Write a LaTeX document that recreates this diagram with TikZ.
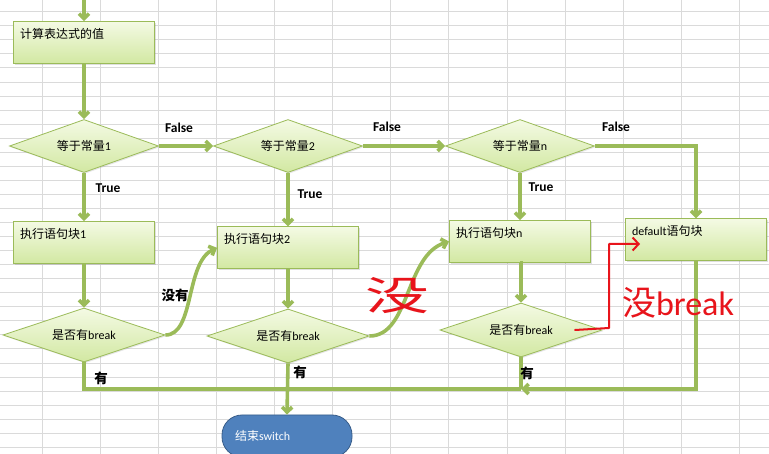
\documentclass[tikz,border=0pt]{standalone}
\usepackage{fontspec}
\setmainfont{Carlito}
\newfontfamily\cjk{Noto Sans CJK SC}
\usetikzlibrary{shapes.geometric,arrows.meta,shadows}
\definecolor{flowgreen}{HTML}{9BBB59}
\definecolor{boxtop}{HTML}{F4FAE4}
\definecolor{boxbottom}{HTML}{D2E8A2}
\definecolor{endblue}{HTML}{4F81BD}
\definecolor{endborder}{HTML}{385D8A}
\definecolor{penred}{HTML}{E8141B}
\definecolor{gridgray}{HTML}{DADADA}
\newcommand{\zh}[1]{{\cjk #1}}
\newcommand{\gridstep}[0]{58.08}

\begin{document}
\begin{tikzpicture}[x=1pt, y=-1pt, font=\fontsize{12}{14}\selectfont]
  \tikzset{
    gridline/.style={gridgray, line width=0.8pt},
    flow/.style={flowgreen, line width=3.6pt},
    flowarrow/.style={flow, -{Straight Barb[length=5pt,width=10pt]}},
    stepbox/.style={draw=flowgreen, line width=0.8pt, top color=boxtop, bottom color=boxbottom,
      minimum width=141pt, minimum height=42pt, inner sep=0pt,
      drop shadow={shadow xshift=1.2pt, shadow yshift=-1.2pt, opacity=0.25},
      label={[anchor=north west, xshift=3.5pt, yshift=-3.5pt]north west:#1}},
    test/.style={diamond, aspect=2.8, draw=flowgreen, line width=0.8pt, top color=boxtop, bottom color=boxbottom,
      minimum width=149pt, minimum height=53pt, inner sep=1pt,
      drop shadow={shadow xshift=1.2pt, shadow yshift=-1.2pt, opacity=0.2}},
    brk/.style={test, minimum width=162pt, minimum height=54pt},
    endnode/.style={draw=endborder, line width=0.8pt, fill=endblue, text=white, rounded corners=20pt,
      minimum height=42pt, text width=104pt, align=left, inner xsep=13pt},
    lab/.style={font=\bfseries\fontsize{13.5}{15}\selectfont},
    pen/.style={penred, line width=2pt, line join=round, line cap=round},
    scribble/.style={penred}
  }
  \useasboundingbox (0,0) rectangle (769,454);
  \clip (0,0) rectangle (769,454);
  \fill[white] (0,0) rectangle (769,454);
  \foreach \k in {0,...,12}
    \draw[gridline] ({42.3+\gridstep*\k},0) -- ++(0,454);
  \foreach \k in {0,...,31}
    \draw[gridline] (0,{11.7+14.05*\k}) -- ++(769,0);

  \coordinate (top) at (84,0);
  \coordinate (merge) at (0,389);
  \node[stepbox=\zh{计算表达式的值}] (calc) at (84,42.5) {};
  \node[test] (eq1) at (84,146) {\zh{等于常量}1};
  \node[test] (eq2) at (288,146) {\zh{等于常量}2};
  \node[test] (eqn) at (520,146) {\zh{等于常量}n};
  \node[stepbox=\zh{执行语句块}1] (blk1) at (84,242.5) {};
  \node[stepbox=\zh{执行语句块}2] (blk2) at (288,247.8) {};
  \node[stepbox=\zh{执行语句块}n] (blkn) at (520,241.5) {};
  \node[stepbox=default\zh{语句块}] (dflt) at (696,239.7) {};
  \node[brk] (brk1) at (84,335) {\zh{是否有}break};
  \node[brk] (brk2) at (288,336) {\zh{是否有}break};
  \node[brk] (brkn) at (521,330) {\zh{是否有}break};
  \node[endnode] (endsw) at (287,436) {\zh{结束}switch};

  \draw[flowarrow] (top) -- (calc);
  \draw[flowarrow] (calc) -- (eq1);
  \draw[flowarrow] (eq1) -- (eq2);
  \draw[flowarrow] (eq2) -- (eqn);
  \draw[flowarrow] (eqn.east) -| (dflt.north);
  \draw[flowarrow] (eq1) -- (blk1);
  \draw[flowarrow] (eq2) -- (blk2);
  \draw[flowarrow] (eqn.south) -- (eqn.south |- blkn.north);
  \draw[flowarrow] (blk1) -- (brk1);
  \draw[flowarrow] (blk2) -- (brk2);
  \draw[flowarrow] (blkn.south) -- (blkn.south -| brkn.north) -- (brkn.north);
  \draw[flowarrow] (brk1.east) .. controls (195,335) and (185,262) .. (blk2.west);
  \draw[flowarrow] (brk2.east) .. controls (410,336) and (405,255) .. (blkn.west);
  \draw[flow] (brk1.south) |- (brkn |- merge);
  \draw[flow] (brkn.south) -- (brkn |- merge);
  \draw[flowarrow] (dflt.south) |- (brkn |- merge);
  \draw[flowarrow] (brk2.south) -- (endsw.north);

  \node[lab] (f1) at (179,128) {False};
  \node[lab] (f2) at (387,127) {False};
  \node[lab] (fn) at (616,127) {False};
  \node[lab] (t1) at (108,188) {True};
  \node[lab] (t2) at (310,194) {True};
  \node[lab] (tn) at (541,187) {True};
  \node[lab] (nb) at (175,295) {\zh{没有}};
  \node[lab] (y1) at (101,378) {\zh{有}};
  \node[lab] (y2) at (300,372) {\zh{有}};
  \node[lab] (yn) at (527,373) {\zh{有}};

  \coordinate (redstart) at (575,330);
  \coordinate (redturn) at (609,328);
  \coordinate (redup) at (609,244);
  \coordinate (redtip) at (640,244);
  \draw[pen, -{Straight Barb[length=6pt,width=13pt]}] (redstart) -- (redturn) -- (redup) -- (redtip);
  \node[scribble, font=\cjk\fontsize{40}{44}\selectfont, xscale=1.6] (mei) at (397,296) {没};
  \node[scribble, font=\fontsize{34}{38}\selectfont] (meibreak) at (678,303) {\zh{没}break};
\end{tikzpicture}
\end{document}
